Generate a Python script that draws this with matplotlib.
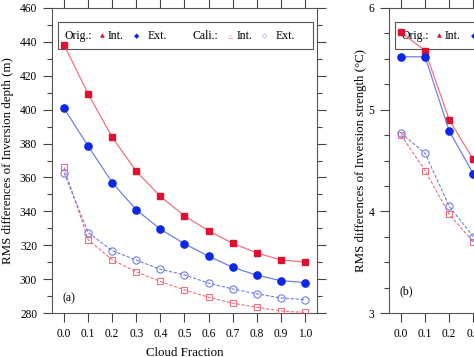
import numpy as np
import matplotlib
matplotlib.use('Agg')
import matplotlib.pyplot as plt
from matplotlib.patches import Rectangle
from matplotlib.ticker import MultipleLocator

plt.rcParams['font.family'] = ['Liberation Serif', 'DejaVu Sans']

# cloud fraction
cf = [0.0, 0.1, 0.2, 0.3, 0.4, 0.5, 0.6, 0.7, 0.8, 0.9, 1.0]
xlabels = ['0.0', '0.1', '0.2', '0.3', '0.4', '0.5', '0.6', '0.7', '0.8', '0.9', '1.0']

# (a) inversion depth (m)
depth_orig_int = [438.3, 409.3, 383.7, 363.6, 348.8, 337.3, 328.5, 321.1, 315.5, 311.3, 310.1]
depth_orig_ext = [400.8, 378.5, 357.0, 340.9, 329.4, 320.9, 313.5, 307.0, 302.3, 299.1, 298.0]
depth_cali_int = [366.0, 323.2, 311.4, 304.3, 298.6, 293.6, 289.3, 285.8, 283.4, 281.2, 280.3]
depth_cali_ext = [362.8, 327.5, 316.8, 311.2, 305.8, 302.5, 297.6, 294.2, 291.3, 288.9, 287.9]

# (b) inversion strength (degC), only first part visible
cf_b = [0.0, 0.1, 0.2, 0.3]
str_orig_int = [5.76, 5.58, 4.90, 4.51]
str_orig_ext = [5.52, 5.52, 4.79, 4.37]
str_cali_int = [4.75, 4.40, 3.97, 3.70]
str_cali_ext = [4.77, 4.57, 4.05, 3.75]

red = '#e0102f'
blue = '#0a28e6'
red_l = '#f07080'
blue_l = '#6f7ee6'

W, H = 474, 357
fig = plt.figure(figsize=(4.74, 3.57), dpi=100)
axw, axh = 265 / W, 305 / H
bot = (H - 313) / H
ax1 = fig.add_axes([52 / W, bot, axw, axh])
ax2 = fig.add_axes([389 / W, bot, axw, axh])


def draw(ax, x, oi, oe, ci, ce):
    ax.plot(x, oi, '-', color=red_l, lw=0.9, marker='s', ms=4.2, mfc=red, mec=red, zorder=4)
    ax.plot(x, oe, '-', color=blue_l, lw=0.9, marker='o', ms=5.2, mfc=blue, mec=blue, zorder=4)
    ax.plot(x, ci, '--', color=red_l, lw=0.8, dashes=(3, 1.5), marker='s', ms=4.0,
            mfc='none', mec=red_l, mew=0.8, zorder=4)
    ax.plot(x, ce, '--', color=blue_l, lw=0.8, dashes=(3, 1.5), marker='o', ms=5.2,
            mfc='none', mec=blue_l, mew=0.8, zorder=4)


def legend_box(ax):
    ax.add_patch(Rectangle((0.0226, 0.866), 0.962, 0.088, transform=ax.transAxes,
                           facecolor='white', edgecolor='#555555', lw=0.8, zorder=2,
                           clip_on=False))
    yy = 0.908
    ax.text(0.049, yy, 'Orig.:', transform=ax.transAxes, fontsize=8.5, va='center', zorder=3)
    ax.text(0.189, yy, '\u25b2', transform=ax.transAxes, fontsize=4.5, color=red,
            ha='center', va='center', family='DejaVu Sans', zorder=3)
    ax.text(0.211, yy, 'Int.', transform=ax.transAxes, fontsize=8.5, va='center', zorder=3)
    ax.text(0.321, yy, '\u25c6', transform=ax.transAxes, fontsize=5, color=blue,
            ha='center', va='center', family='DejaVu Sans', zorder=3)
    ax.text(0.362, yy, 'Ext.', transform=ax.transAxes, fontsize=8.5, va='center', zorder=3)
    ax.text(0.532, yy, 'Cali.:', transform=ax.transAxes, fontsize=8.5, va='center', zorder=3)
    ax.text(0.672, yy, '\u25b3', transform=ax.transAxes, fontsize=4.5, color=red_l,
            ha='center', va='center', family='DejaVu Sans', zorder=3)
    ax.text(0.698, yy, 'Int.', transform=ax.transAxes, fontsize=8.5, va='center', zorder=3)
    ax.text(0.804, yy, '\u25c7', transform=ax.transAxes, fontsize=5, color=blue_l,
            ha='center', va='center', family='DejaVu Sans', zorder=3)
    ax.text(0.842, yy, 'Ext.', transform=ax.transAxes, fontsize=8.5, va='center', zorder=3)


for ax in (ax1, ax2):
    ax.set_xlim(-0.05, 1.05)
    ax.set_xticks(cf)
    ax.set_xticklabels(xlabels)
    ax.tick_params(which='both', direction='out', top=True, right=True,
                   colors='#444444', labelcolor='black', labelsize=8.3, width=0.8)
    ax.tick_params(which='major', length=6.2, pad=4.5)
    ax.tick_params(which='minor', length=3.5)
    for s in ax.spines.values():
        s.set_color('#555555')
        s.set_linewidth(0.8)
    legend_box(ax)

draw(ax1, cf, depth_orig_int, depth_orig_ext, depth_cali_int, depth_cali_ext)
ax1.set_ylim(280, 460)
ax1.yaxis.set_major_locator(MultipleLocator(20))
ax1.yaxis.set_minor_locator(MultipleLocator(10))
ax1.set_ylabel('RMS differences of Inversion depth (m)', fontsize=9.3)
ax1.yaxis.set_label_coords(-0.142, 0.5)
ax1.set_xlabel('Cloud Fraction', fontsize=9.3)
ax1.xaxis.set_label_coords(0.5, -0.111)
ax1.text(0.04, 0.049, '(a)', transform=ax1.transAxes, fontsize=8.5, va='center')

draw(ax2, cf_b, str_orig_int, str_orig_ext, str_cali_int, str_cali_ext)
ax2.set_ylim(3, 6)
ax2.yaxis.set_major_locator(MultipleLocator(1))
ax2.yaxis.set_minor_locator(MultipleLocator(0.25))
ax2.set_ylabel('RMS differences of Inversion strength (\u00b0C)', fontsize=9.3)
ax2.yaxis.set_label_coords(-0.083, 0.5)
ax2.text(0.04, 0.07, '(b)', transform=ax2.transAxes, fontsize=8.5, va='center')

fig.savefig('out.png', dpi=100)
